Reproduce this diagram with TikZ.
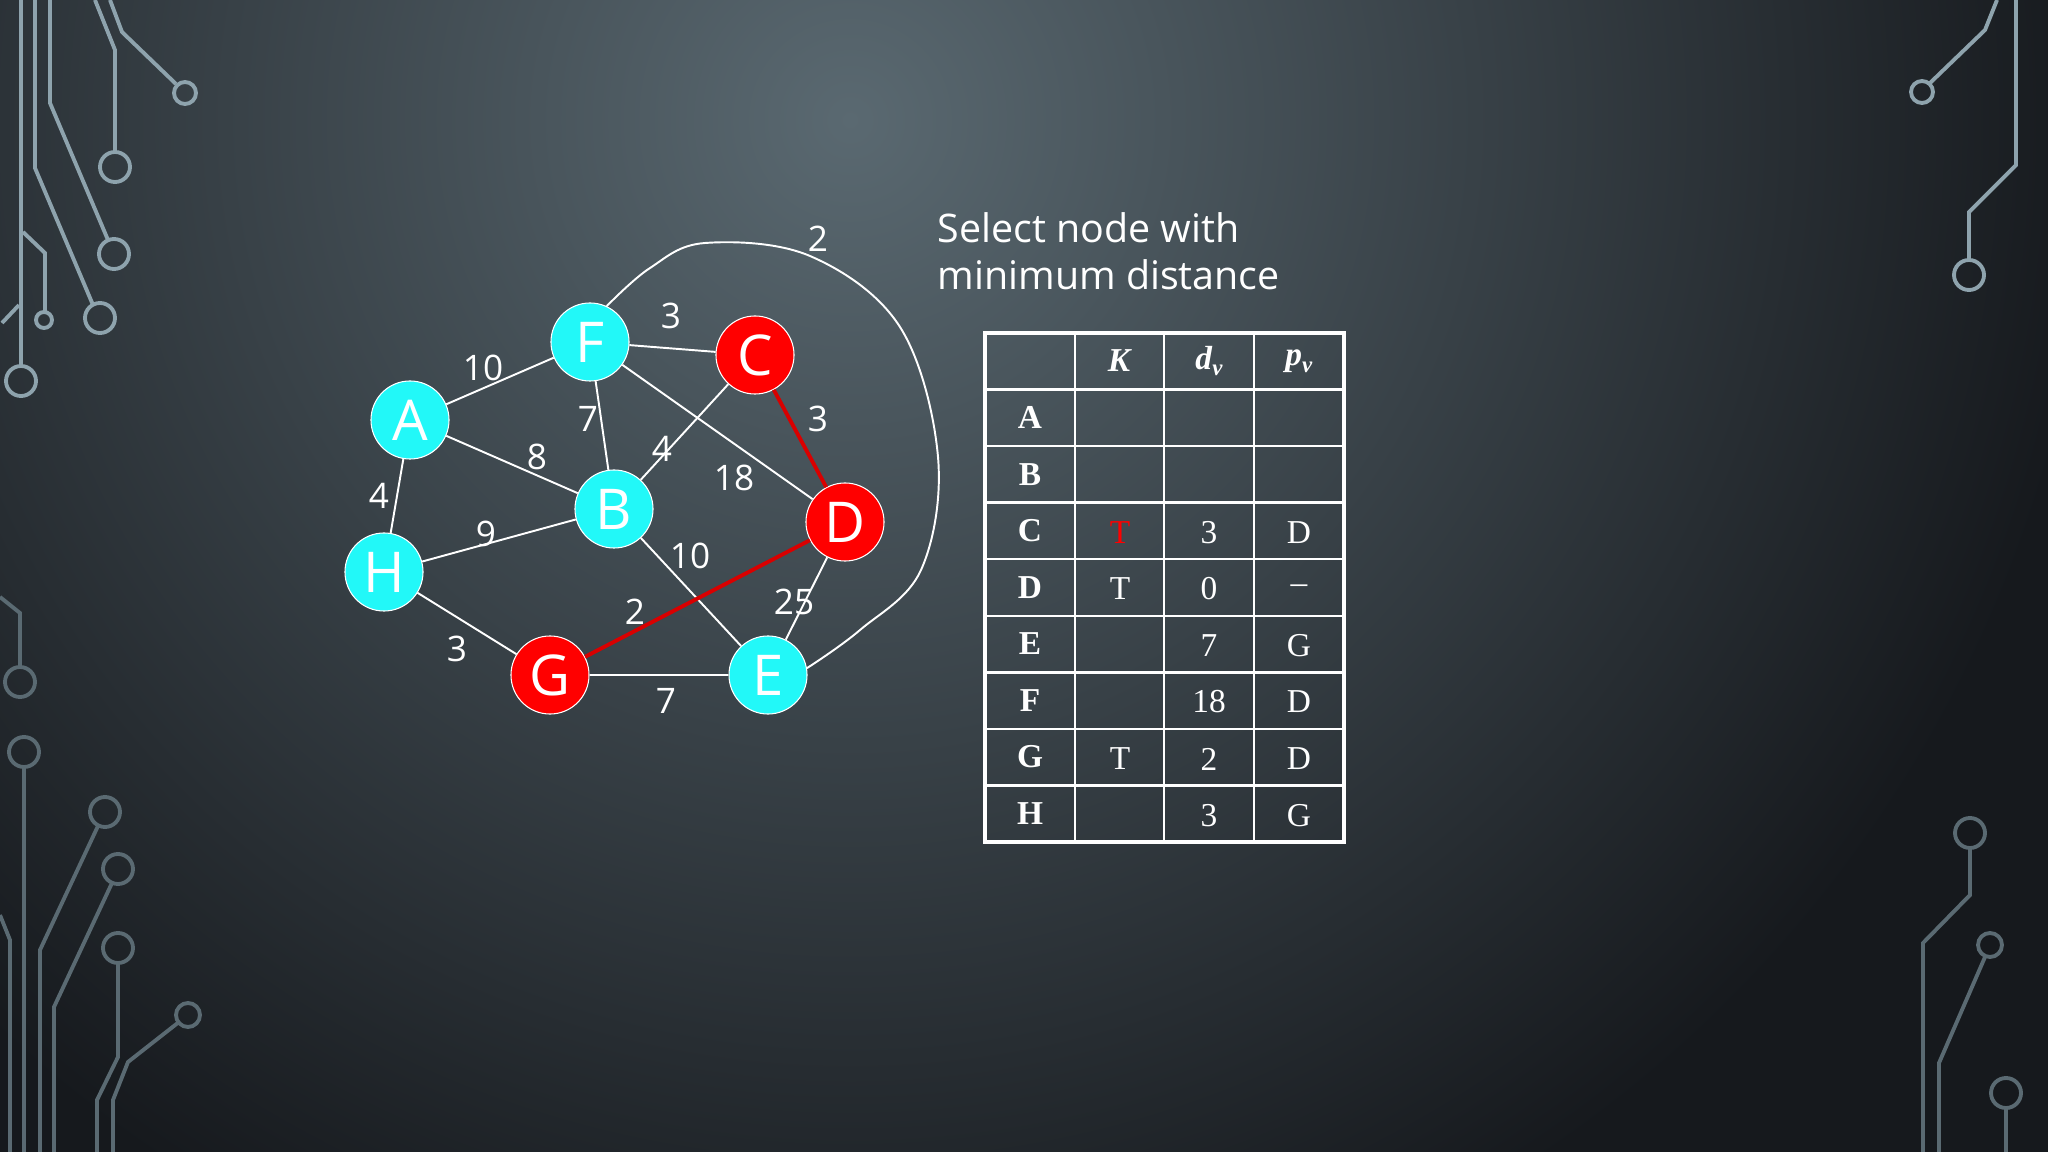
\documentclass[tikz,border=0pt]{standalone}
\usepackage{fontspec}
\setmainfont{Open Sans}
\newfontfamily\tabfont{Liberation Serif}
\begin{document}
\begin{tikzpicture}[x=0.01cm,y=-0.01cm,
  vtx/.style={circle,draw=white,line width=0.3pt,minimum size=0.78cm,inner sep=0pt,text=white,font=\fontsize{16}{16}\selectfont},
  cy/.style={vtx,fill=cycol},
  rd/.style={vtx,fill=red},
  edge/.style={draw=white,line width=0.55pt},
  redge/.style={draw=red!85!black,line width=1.1pt},
  wl/.style={text=white,font=\fontsize{10}{10}\selectfont,inner sep=0pt},
  circA/.style={draw=circ1,line width=1.1pt},
  circB/.style={draw=circ2,line width=1.1pt},
  cell/.style={text=white,font=\tabfont\fontsize{9.5}{10}\selectfont,inner sep=0pt}]
\definecolor{cycol}{HTML}{22F8F8}
\definecolor{bgin}{HTML}{5A6971}
\definecolor{bgout}{HTML}{16191D}
\definecolor{circ1}{HTML}{8EA3AD}
\definecolor{circ2}{HTML}{5A6A72}
\useasboundingbox (0,0) rectangle (2048,1152);
\begin{scope}
\clip (0,0) rectangle (2048,1152);
\fill[bgout] (0,0) rectangle (2048,1152);
\shade[inner color=bgin,outer color=bgout] (850,120) circle (1250);
\end{scope}
% circuits top-left
\draw[circA] (21,0) -- (21,366); \draw[circA] (21,381) circle (15);
\draw[circA] (35,0) -- (35,168) -- (93,305); \draw[circA] (100,318) circle (15);
\draw[circA] (50,0) -- (50,103) -- (108,240); \draw[circA] (114,254) circle (15);
\draw[circA] (95,0) -- (115,50) -- (115,153); \draw[circA] (115,167) circle (15);
\draw[circA] (110,0) -- (122,32) -- (176,84); \draw[circA] (185,93) circle (11);
\draw[circA] (23,232) -- (45,253) -- (45,312); \draw[circA] (44,320) circle (8);
\draw[circA] (2,323) -- (19,305);
% bottom-left
\draw[circB] (0,597) -- (20,613) -- (20,668); \draw[circB] (20,682) circle (15);
\draw[circB] (24,752) circle (15); \draw[circB] (24,767) -- (24,1152);
\draw[circB] (105,812) circle (15); \draw[circB] (98,826) -- (40,950) -- (40,1152);
\draw[circB] (118,869) circle (15); \draw[circB] (112,883) -- (54,1007) -- (54,1152);
\draw[circB] (118,948) circle (15); \draw[circB] (118,963) -- (118,1057) -- (97,1100) -- (97,1152);
\draw[circB] (188,1015) circle (12); \draw[circB] (179,1022) -- (128,1062) -- (113,1100) -- (113,1152);
\draw[circB] (0,915) -- (10,940) -- (10,1152);
% top-right
\draw[circA] (1997,0) -- (1985,30) -- (1930,83); \draw[circA] (1922,92) circle (11);
\draw[circA] (2016,0) -- (2016,165) -- (1969,212) -- (1969,260); \draw[circA] (1969,275) circle (15);
% bottom-right
\draw[circB] (1970,833) circle (15); \draw[circB] (1970,848) -- (1970,895) -- (1923,943) -- (1923,1152);
\draw[circB] (1990,945) circle (12); \draw[circB] (1985,957) -- (1939,1063) -- (1939,1152);
\draw[circB] (2006,1093) circle (15); \draw[circB] (2006,1108) -- (2006,1152);
% graph
\node[cy] (F) at (590,342) {F};
\node[rd] (C) at (755,355) {C};
\node[cy] (A) at (410,420) {A};
\node[cy] (B) at (614,509) {B};
\node[rd] (D) at (845,522) {D};
\node[cy] (H) at (384,572) {H};
\node[rd] (G) at (550,675) {G};
\node[cy] (E) at (768,675) {E};
\draw[edge] (A) -- (F);
\draw[edge] (A) -- (B);
\draw[edge] (A) -- (H);
\draw[edge] (F) -- (C);
\draw[edge] (F) -- (B);
\draw[edge] (F) -- (D);
\draw[edge] (C) -- (B);
\draw[edge] (H) -- (B);
\draw[edge] (H) -- (G);
\draw[edge] (B) -- (E);
\draw[edge] (G) -- (E);
\draw[edge] (D) -- (E);
\draw[redge] (C) -- (D);
\draw[redge] (G) -- (D);
\draw[edge] plot[smooth,tension=0.6] coordinates {(F.65) (650,268) (705,243) (810,256) (900,327) (938,457) (921,570) (860,630) (E.10)};
\node[wl] (l1) at (818,239) {2};
\node[wl] (l2) at (671,316) {3};
\node[wl] (l3) at (483,368) {10};
\node[wl] (l4) at (588,419) {7};
\node[wl] (l5) at (537,457) {8};
\node[wl] (l6) at (662,449) {4};
\node[wl] (l7) at (734,478) {18};
\node[wl] (l8) at (818,419) {3};
\node[wl] (l9) at (379,496) {4};
\node[wl] (l10) at (486,534) {9};
\node[wl] (l11) at (690,556) {10};
\node[wl] (l12) at (635,612) {2};
\node[wl] (l13) at (794,602) {25};
\node[wl] (l14) at (457,649) {3};
\node[wl] (l15) at (666,701) {7};
% title
\node[anchor=north west,align=left,text=white,inner sep=0pt,font=\fontsize{11.2}{13.2}\selectfont] (title) at (937,212) {Select node with\\minimum distance};
% table
\foreach \i in {1,...,8} { \draw[white,line width=0.7pt] (985,{333+56.56*\i}) -- (1344,{333+56.56*\i}); }
\foreach \x in {1075,1164,1254} { \draw[white,line width=0.7pt] (\x,333) -- (\x,842); }
\draw[white,line width=1.1pt] (985,333) rectangle (1344,842);
\node[cell] (hK) at (1120,361) {\textbf{\textit{K}}};
\node[cell] (hd) at (1209,361) {\textbf{\textit{d}}\raisebox{-0.45ex}{\fontsize{6.5}{6.5}\selectfont\textbf{\textit{v}}}};
\node[cell] (hp) at (1299,361) {\textbf{\textit{p}}\raisebox{-0.45ex}{\fontsize{6.5}{6.5}\selectfont\textbf{\textit{v}}}};
\foreach \r [count=\k from 1] in {A,B,C,D,E,F,G,H} {
  \node[cell] (row\r) at (1030,{361+56.56*\k}) {\textbf{\r}};
}
\node[cell,text=red] (cK) at (1120,533) {T}; \node[cell] (cd) at (1209,533) {3}; \node[cell] (cp) at (1299,533) {D};
\node[cell] (dK) at (1120,589) {T}; \node[cell] (dd) at (1209,589) {0}; \node[cell] (dp) at (1299,589) {\textendash};
\node[cell] (ed) at (1209,646) {7}; \node[cell] (ep) at (1299,646) {G};
\node[cell] (fd) at (1209,702) {18}; \node[cell] (fp) at (1299,702) {D};
\node[cell] (gK) at (1120,759) {T}; \node[cell] (gd) at (1209,759) {2}; \node[cell] (gp) at (1299,759) {D};
\node[cell] (hd2) at (1209,816) {3}; \node[cell] (hp2) at (1299,816) {G};
\end{tikzpicture}
\end{document}
